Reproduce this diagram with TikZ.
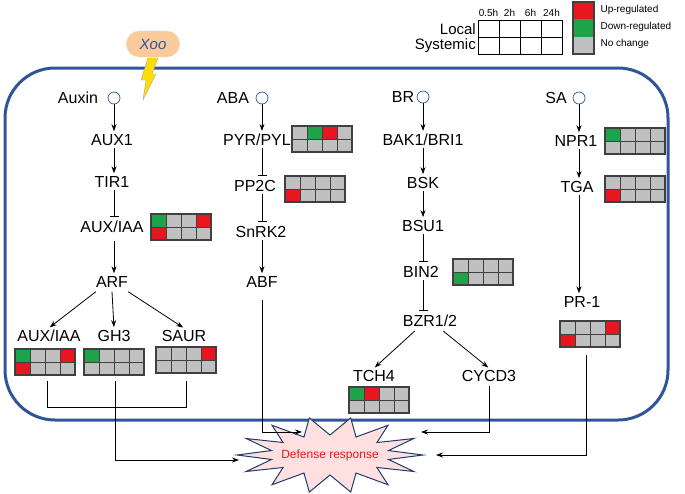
\documentclass[tikz,border=0pt]{standalone}
\usepackage{fontspec}
\setmainfont{Liberation Sans}
\usetikzlibrary{arrows.meta,shapes.misc}
\definecolor{cred}{HTML}{E8161F}
\definecolor{cgreen}{HTML}{1FA34A}
\definecolor{cgray}{HTML}{C0C0C0}
\definecolor{cblue}{HTML}{2F5597}
\newcommand\hmgrid[3]{%
  \foreach \cc [count=\ii from 0] in {#3} {%
    \pgfmathtruncatemacro\col{mod(\ii,4)}\pgfmathtruncatemacro\row{int(\ii/4)}%
    \fill[\cc] ({#1+\col*15},{#2+\row*13}) rectangle ++(15,13);}
  \foreach \k in {1,2,3} \draw[line width=1pt,black!75] ({#1+\k*15},#2) -- ++(0,26);
  \draw[line width=1pt,black!75] (#1,{#2+13}) -- ++(60,0);
  \draw[line width=1.2pt,draw=black!75] (#1,#2) rectangle ({#1+60},{#2+26});}
\begin{document}
\begin{tikzpicture}[x=1pt,y=-1pt,
  lab/.style={font=\fontsize{16}{16}\selectfont,inner sep=2pt},
  arr/.style={-{Stealth[length=7pt,width=5pt]},line width=0.8pt,shorten >=1pt},
  inh/.style={-{Bar[width=9pt]},line width=0.8pt,shorten >=2pt},
  ln/.style={line width=0.8pt},
  hor/.style={circle,draw=cblue,line width=0.7pt,minimum size=12pt,inner sep=0pt}]
\useasboundingbox (0,0) rectangle (685,493);
% cell
\draw[cblue,line width=3pt,rounded corners=50pt] (5,68) rectangle (668,420);
% Xoo
\node[rounded rectangle,fill=orange!35!white!90!brown,draw=orange!30,minimum width=60pt,minimum height=26pt,font=\fontsize{15}{15}\selectfont\itshape,text=cblue] (xoo) at (153,44) {Xoo};
\fill[yellow!80!orange,draw=gray!70,line width=0.4pt] (148,58)--(158,58)--(152,74)--(156,74)--(143,100)--(146,80)--(141,80)--cycle;
% legend
\foreach \t [count=\i from 0] in {0.5h,2h,6h,24h}
  \node[font=\fontsize{10}{10}\selectfont] (h\i) at ({488.5+\i*21},13) {\t};
\foreach \k in {1,2,3} \draw[line width=1pt] ({478+\k*21},20) -- ++(0,34);
\draw[line width=1pt] (478,37) -- (562,37);
\draw[line width=1pt] (478,20) rectangle (562,54);
\node[font=\fontsize{15}{15}\selectfont,anchor=east,inner sep=1pt] (loc) at (477,29) {Local};
\node[font=\fontsize{15}{15}\selectfont,anchor=east,inner sep=1pt] (sys) at (477,46) {Systemic};
\foreach \c/\t [count=\i from 0] in {cred/Up-regulated,cgreen/Down-regulated,cgray/No change}{
  \fill[\c] (573,{2+\i*17.3}) rectangle (594,{19.3+\i*17.3});
  \node[font=\fontsize{10}{10}\selectfont,anchor=west] (lg\i) at (597,{10+\i*17}) {\t};}
\draw[line width=1.2pt,black!75] (573,2) rectangle (594,54);
% Auxin column
\node[lab] (auxin) at (78,98) {Auxin};
\node[hor] (auxc) at (114,98) {};
\node[lab] (aux1) at (112,140) {AUX1};
\node[lab] (tir1) at (112,182) {TIR1};
\node[lab] (auxiaa) at (112,227) {AUX/IAA};
\node[lab] (arf) at (112,282) {ARF};
\node[lab] (auxiaa2) at (49,336) {AUX/IAA};
\node[lab] (gh3) at (114,336) {GH3};
\node[lab] (saur) at (184,336) {SAUR};
\draw[arr] (auxc) -- (aux1.north -| auxc);
\draw[arr] (aux1.south -| auxc) -- (tir1.north -| auxc);
\draw[inh] (tir1.south -| auxc) -- (auxiaa.north -| auxc);
\draw[arr] (auxiaa.south -| auxc) ++(0,6) -- (arf.north -| auxc);
\draw[arr] (arf.south west) ++(2,2) -- (auxiaa2.north);
\draw[arr] (arf.south) ++(0,2) -- (gh3.north);
\draw[arr] (arf.south east) ++(-2,2) -- (saur.north);
\hmgrid{151}{214}{cgreen,cgray,cgray,cred,cred,cgray,cgray,cgray}
\hmgrid{15}{349}{cgreen,cgray,cgray,cred,cred,cgray,cgray,cgray}
\hmgrid{84}{349}{cgreen,cgray,cgray,cgray,cgray,cgray,cgray,cgray}
\hmgrid{156}{347}{cgray,cgray,cgray,cred,cgray,cgray,cgray,cgray}
% ABA
\node[lab] (aba) at (233,98) {ABA};
\node[hor] (abac) at (262,98) {};
\node[lab] (pyr) at (257,140) {PYR/PYL};
\node[lab] (pp2c) at (255,186) {PP2C};
\node[lab] (snrk) at (261,232) {SnRK2};
\node[lab] (abf) at (262,282) {ABF};
\draw[arr] (abac) -- (pyr.north -| abac);
\draw[inh] (pyr.south -| abac) -- (pp2c.north -| abac);
\draw[inh] (pp2c.south -| abac) -- (snrk.north -| abac);
\draw[arr] (snrk.south -| abac) -- (abf.north -| abac);
\hmgrid{292}{126}{cgray,cgreen,cred,cgray,cgray,cgray,cgray,cgray}
\hmgrid{285}{176}{cgray,cgray,cgray,cgray,cred,cgray,cgray,cgray}
% BR
\node[lab] (br) at (403,97) {BR};
\node[hor] (brc) at (423,97) {};
\node[lab] (bak) at (423,140) {BAK1/BRI1};
\node[lab] (bsk) at (423,183) {BSK};
\node[lab] (bsu) at (423,226) {BSU1};
\node[lab] (bin2) at (421,272) {BIN2};
\node[lab] (bzr) at (430,321) {BZR1/2};
\node[lab] (tch4) at (374,376) {TCH4};
\node[lab] (cycd) at (489,376) {CYCD3};
\draw[arr] (brc) -- (bak.north -| brc);
\draw[arr] (bak.south -| brc) -- (bsk.north -| brc);
\draw[arr] (bsk.south -| brc) -- (bsu.north -| brc);
\draw[inh] (bsu.south -| brc) -- (bin2.north -| brc);
\draw[inh] (bin2.south -| brc) -- (bzr.north -| brc);
\draw[arr] (bzr.south west) ++(14,2) -- (tch4.north);
\draw[arr] (bzr.south east) ++(-16,2) -- (cycd.north);
\hmgrid{453}{259}{cgray,cgray,cgray,cgray,cgreen,cgray,cgray,cgray}
\hmgrid{349}{387}{cgreen,cred,cgray,cgray,cgray,cgray,cgray,cgray}
% SA
\node[lab] (sa) at (556,98) {SA};
\node[hor] (sac) at (579,98) {};
\node[lab] (npr) at (576,141) {NPR1};
\node[lab] (tga) at (577,187) {TGA};
\node[lab] (pr1) at (582,302) {PR-1};
\draw[arr] (sac) -- (npr.north -| sac);
\draw[arr] (npr.south -| sac) -- (tga.north -| sac);
\draw[arr] (tga.south -| sac) -- (pr1.north -| sac);
\hmgrid{605}{128}{cgreen,cgray,cgray,cgray,cgray,cgray,cgray,cgray}
\hmgrid{605}{176}{cgray,cgray,cgray,cgray,cred,cgray,cgray,cgray}
\hmgrid{560}{321}{cgray,cgray,cgray,cred,cred,cgray,cgray,cgray}
% defense
\draw[fill=red!12,draw=cblue!70!black,line width=1pt]
  plot[samples at={0,...,27},smooth cycle,tension=0] ({330+(mod(\x,2)==0?93:60)*cos(\x*360/28)},{455+(mod(\x,2)==0?38:20)*sin(\x*360/28)});
\node[font=\fontsize{12}{12}\selectfont,text=cred] (def) at (330,455) {Defense response};
\coordinate (dW) at (240,460);
\coordinate (dNW) at (303,432);
\coordinate (dNE) at (420,432);
\coordinate (dE) at (435,455);
\draw[ln] (47,381) -- (47,407) -- (186,407) -- (186,381);
\draw[arr] (115,381) |- (dW);
\draw[arr] (abf.south) ++(0,10) |- (dNW);
\draw[arr] (cycd.south) ++(0,2) |- (dNE);
\draw[arr] (586,355) |- (dE);
\end{tikzpicture}
\end{document}
